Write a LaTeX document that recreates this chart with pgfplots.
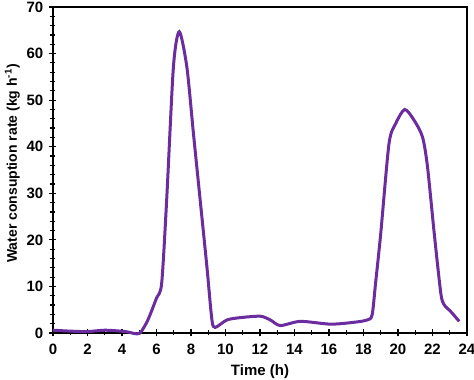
\documentclass[border=0pt]{standalone}
\usepackage{pgfplots}
\pgfplotsset{compat=1.18}
\usepackage{fontspec}
\setmainfont{Liberation Sans}
\definecolor{lc}{HTML}{6A2C9E}
\begin{document}
\fontsize{15}{18}\selectfont
\begin{tikzpicture}
\begin{axis}[
  name=a,
  width=414pt, height=326pt, scale only axis,
  xmin=0, xmax=24, ymin=0, ymax=70,
  xtick={0,2,...,24}, ytick={0,10,...,70},
  minor x tick num=1, minor y tick num=4,
  xtick pos=bottom, ytick pos=left,
  tick align=center,
  major tick length=7pt, minor tick length=5pt,
  every tick/.style={black, line width=1.2pt},
  axis line style={line width=1.5pt},
  tick label style={font=\fontsize{15}{18}\selectfont\bfseries},
  xticklabel shift=2pt,
  yticklabel shift=1pt,
  /pgf/number format/assume math mode=true,
  xlabel={\bfseries Time (h)},
  ylabel={\bfseries Water consuption rate (kg h\textsuperscript{-1})},
  xlabel style={font=\fontsize{15}{18}\selectfont\bfseries, at={(axis description cs:0.5,-0.12)}, anchor=center},
  ylabel style={font=\fontsize{14}{17}\selectfont\bfseries, at={(axis description cs:-0.098,0.52)}, anchor=center},
  clip=false,
]
\addplot[lc, line width=3pt, smooth, tension=0.45] coordinates {
(0,0.6) (1,0.4) (2,0.3) (3,0.6) (4.2,0.3) (4.7,-0.1) (5.05,0)
(5.5,2.8) (6.0,7.5) (6.3,10.7) (6.59,28.6) (6.98,57.1) (7.32,64.7)
(7.76,57.1) (8.14,42.9) (8.53,28.6) (8.92,14.3) (9.21,2.9) (9.40,1.2)
(10.08,2.8) (10.86,3.3) (12.02,3.6) (12.6,2.8) (13.18,1.6) (14.34,2.5)
(16.09,1.9) (17.45,2.3) (18.22,2.8) (18.5,3.9) (18.7,10.7) (19.0,21.4)
(19.48,40.7) (19.87,45) (20.39,48) (20.93,45.7) (21.42,42.1) (21.71,35.7)
(22.1,21.4) (22.48,8.6) (22.67,6.1) (23.06,4.6) (23.55,2.5)
};
\end{axis}
\pgfresetboundingbox
\path ([xshift=-53pt,yshift=-47pt]a.south west) rectangle ([xshift=7pt,yshift=7pt]a.north east);
\end{tikzpicture}
\end{document}
